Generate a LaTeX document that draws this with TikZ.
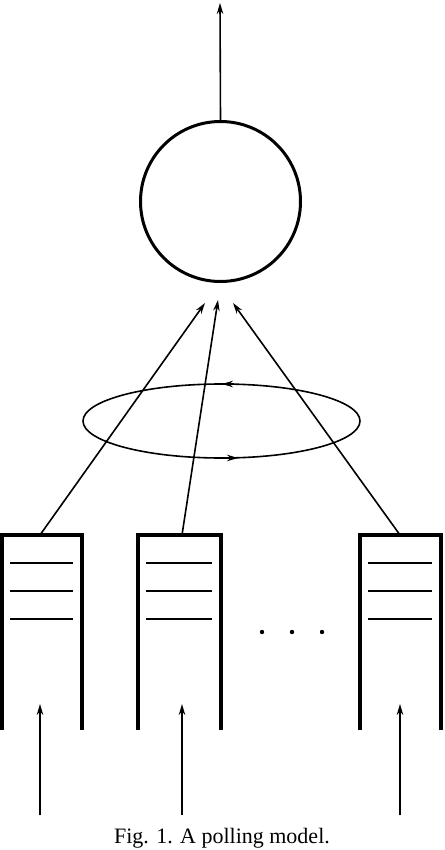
\documentclass[tikz,border=0pt]{standalone}
\usepackage{fontspec}
\setmainfont{Liberation Serif}
\usetikzlibrary{arrows.meta}
\begin{document}
\begin{tikzpicture}[x=1pt,y=-1pt,
  arr/.style={line width=1.6pt,-{Stealth[length=11pt,width=6.5pt]}},
  queuewall/.style={line width=3.2pt},
  slot/.style={line width=1.8pt},
  ring/.style={line width=1.6pt}]
\useasboundingbox (0,0) rectangle (444,850);
% server
\node[circle,draw,line width=3pt,minimum size=160pt,inner sep=0pt] (srv) at (220.5,201.5) {};
\coordinate (out) at (220,3);
\draw[arr] (srv.north) -- (out);
% queues
\foreach \n/\xl/\xr/\xa in {q1/2/82/40, q2/138/221/182, q3/360/441/400}{
  \draw[queuewall] (\xl,730) -- (\xl,535) -- (\xr,535) -- (\xr,730);
  \foreach \yy in {563,591,619}{ \draw[slot] (\xl+8,\yy) -- (\xr-9,\yy); }
  \coordinate (\n top) at (\xa,535);
  \coordinate (\n in) at (\xa,815);
  \coordinate (\n tip) at (\xa,704);
  \draw[arr] (\n in) -- (\n tip);
}
\coordinate (t1) at (205,303);
\coordinate (t2) at (218,300);
\coordinate (t3) at (233,303);
\draw[arr] (q1top) -- (t1);
\draw[arr] (q2top) -- (t2);
\draw[arr] (q3top) -- (t3);
% polling ring
\draw[ring] (221.5,421) ellipse [x radius=138.5, y radius=37];
\coordinate (ra) at (234,384); \coordinate (rb) at (222,384);
\coordinate (rc) at (224,458); \coordinate (rd) at (238,458);
\draw[ring,-{Stealth[length=11pt,width=6.5pt]}] (ra) -- (rb);
\draw[ring,-{Stealth[length=11pt,width=6.5pt]}] (rc) -- (rd);
% dots
\foreach \xx in {262,292,322}{ \fill (\xx,632) circle (2.2pt); }
% caption
\node[font=\fontsize{22}{26}\selectfont] (cap) at (222,838) {Fig. 1. A polling model.};
\end{tikzpicture}
\end{document}
